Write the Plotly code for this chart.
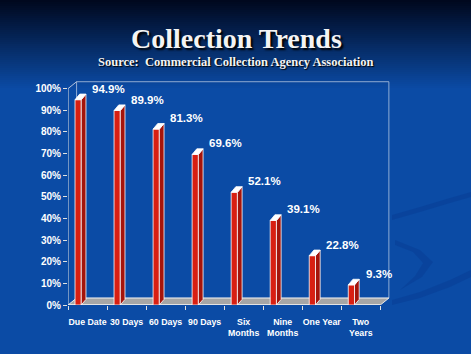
import plotly.graph_objects as go

categories = ["Due Date", "30 Days", "60 Days", "90 Days", "Six<br>Months",
              "Nine<br>Months", "One Year", "Two<br>Years"]
values = [94.9, 89.9, 81.3, 69.6, 52.1, 39.1, 22.8, 9.3]
value_labels = ["94.9%", "89.9%", "81.3%", "69.6%", "52.1%", "39.1%", "22.8%", "9.3%"]
y_ticks = [0, 10, 20, 30, 40, 50, 60, 70, 80, 90, 100]
y_tick_labels = [f"{v}%" for v in y_ticks]

title = "Collection Trends"
subtitle = "Source:  Commercial Collection Agency Association"

W, H = 471, 354
BG = "#0b4ba5"
DX, DY = 0.22, 3.2        # floor / wall depth (data units)
BW, BOFF = 0.16, -0.32    # bar front width / offset
BDX, BDY = 0.12, 2.6      # bar depth

fig = go.Figure()

fig.add_trace(go.Bar(
    x=list(range(len(categories))), y=values, width=BW, offset=BOFF,
    marker=dict(color="#d81f12", line=dict(color="#ffffff", width=0.8)),
    hoverinfo="skip", showlegend=False,
))

shapes = []

def px_to_paper(px, py):
    return (px - 68) / 324, (305 - py) / 225

# background gradient (top band)
top_c = (0, 8, 30)
bot_c = (11, 75, 165)
n = 45
for k in range(n):
    t = k / (n - 1)
    c = tuple(int(round(top_c[j] + (bot_c[j] - top_c[j]) * t)) for j in range(3))
    py0 = k * 2
    py1 = k * 2 + 3
    shapes.append(dict(type="rect", xref="paper", yref="paper", x0=-0.3, x1=1.3,
                       y0=(305 - py0) / 225, y1=(305 - py1) / 225,
                       fillcolor=f"rgb{c}", line=dict(width=0), layer="below"))

def path_px(pts):
    s = ""
    for i, (a, b) in enumerate(pts):
        xx, yy = px_to_paper(a, b)
        s += ("M" if i == 0 else " L") + f" {xx:.4f},{yy:.4f}"
    return s

# subtle swooshes on the right
sw1 = [(392, 215), (420, 207), (450, 198), (471, 192), (471, 197), (450, 203), (420, 212), (392, 220)]
sw2 = [(392, 300), (420, 292), (450, 280), (471, 270), (471, 277), (450, 287), (420, 298), (392, 305)]
sw3 = [(395, 240), (420, 250), (433, 262), (422, 277), (400, 290), (415, 276), (423, 263), (413, 252), (395, 245)]
for sw in (sw1, sw2, sw3):
    shapes.append(dict(type="path", xref="paper", yref="paper", path=path_px(sw) + " Z",
                       fillcolor="rgba(5,55,140,0.35)", line=dict(width=0), layer="below"))

nC = len(categories)
# back wall
shapes.append(dict(type="rect", xref="x", yref="y", x0=-0.5 + DX, x1=nC - 0.5 + DX,
                   y0=DY, y1=100 + DY, line=dict(color="rgba(190,205,230,0.75)", width=1),
                   fillcolor="rgba(0,0,0,0)", layer="below"))
# left diagonal at top
shapes.append(dict(type="line", xref="x", yref="y", x0=-0.5, y0=100, x1=-0.5 + DX, y1=100 + DY,
                   line=dict(color="rgba(200,210,230,0.9)", width=1), layer="below"))
# floor
shapes.append(dict(type="path", xref="x", yref="y",
                   path=f"M -0.5,0 L {nC-0.5},0 L {nC-0.5+DX},{DY} L {-0.5+DX},{DY} Z",
                   fillcolor="#a6a6a6", line=dict(color="#e8e8e8", width=1), layer="below"))
# y axis line
shapes.append(dict(type="line", xref="x", yref="y", x0=-0.5, y0=0, x1=-0.5, y1=100,
                   line=dict(color="#e0e0e0", width=1), layer="below"))
# x axis line
shapes.append(dict(type="line", xref="x", yref="y", x0=-0.5, y0=0, x1=nC - 0.5, y1=0,
                   line=dict(color="#ffffff", width=1.2), layer="below"))

# 3D bar side and top faces computed from values
for i, v in enumerate(values):
    xr = i + BOFF + BW
    xl = i + BOFF
    shapes.append(dict(type="path", xref="x", yref="y",
                       path=f"M {xr},0 L {xr+BDX},{BDY} L {xr+BDX},{v+BDY} L {xr},{v} Z",
                       fillcolor="#a4140b", line=dict(color="#ffffff", width=0.8)))
    shapes.append(dict(type="path", xref="x", yref="y",
                       path=f"M {xl},{v} L {xr},{v} L {xr+BDX},{v+BDY} L {xl+BDX},{v+BDY} Z",
                       fillcolor="#ffffff", line=dict(color="#ffffff", width=0.8)))

annotations = []
for i, (v, lab) in enumerate(zip(values, value_labels)):
    annotations.append(dict(x=i + 0.07, y=v, xref="x", yref="y", text=f"<b>{lab}</b>",
                            showarrow=False, xanchor="left", yanchor="middle", yshift=11,
                            font=dict(family="Liberation Sans, Arial", size=11.5, color="#ffffff")))

annotations.append(dict(x=(236 - 68) / 324, y=(305 - 39) / 225, xref="paper", yref="paper",
                        text=f"<b>{title}</b>", showarrow=False, xanchor="center", yanchor="middle",
                        font=dict(family="Liberation Serif, Times New Roman, serif", size=28,
                                  color="#f4f4f4", shadow="2px 2px 2px #000000")))
annotations.append(dict(x=(236 - 68) / 324, y=(305 - 62) / 225, xref="paper", yref="paper",
                        text=f"<b>{subtitle}</b>", showarrow=False, xanchor="center", yanchor="middle",
                        font=dict(family="Liberation Serif, Times New Roman, serif", size=12.5,
                                  color="#f4f4f4", shadow="1px 1px 1px #000000")))

fig.update_layout(
    width=W, height=H,
    margin=dict(l=68, r=W - 392, t=80, b=H - 305),
    paper_bgcolor=BG, plot_bgcolor="rgba(0,0,0,0)",
    shapes=shapes, annotations=annotations,
    showlegend=False,
    xaxis=dict(
        range=[-0.5, nC - 0.5 + 0.3],
        tickmode="array", tickvals=list(range(nC)), ticktext=[f"<b>{c}</b>" for c in categories],
        showgrid=False, zeroline=False, showline=False, tickangle=0, automargin=False,
        ticks="", tickfont=dict(family="Liberation Sans, Arial", size=8.8, color="#ffffff"),
        ticklabelstandoff=10,
    ),
    yaxis=dict(
        range=[0, 104], tickmode="array", tickvals=y_ticks,
        ticktext=[f"<b>{t}</b>" for t in y_tick_labels],
        showgrid=False, zeroline=False, showline=False, automargin=False,
        ticks="outside", ticklen=4, tickcolor="#e0e0e0", tickwidth=1,
        tickfont=dict(family="Liberation Sans, Arial", size=10, color="#ffffff"),
    ),
    xaxis2=dict(overlaying="x", range=[-0.5, nC - 0.5 + 0.3], tickmode="array",
                tickvals=[i - 0.5 for i in range(nC + 1)], ticktext=[""] * (nC + 1),
                ticks="outside", ticklen=4, tickcolor="#e0e0e0", showgrid=False,
                zeroline=False, showline=False, anchor="y", side="bottom", automargin=False),
)
fig.add_trace(go.Scatter(x=[0], y=[0], xaxis="x2", yaxis="y", mode="markers",
                         marker=dict(opacity=0), hoverinfo="skip", showlegend=False))

fig.write_html("out.html")
